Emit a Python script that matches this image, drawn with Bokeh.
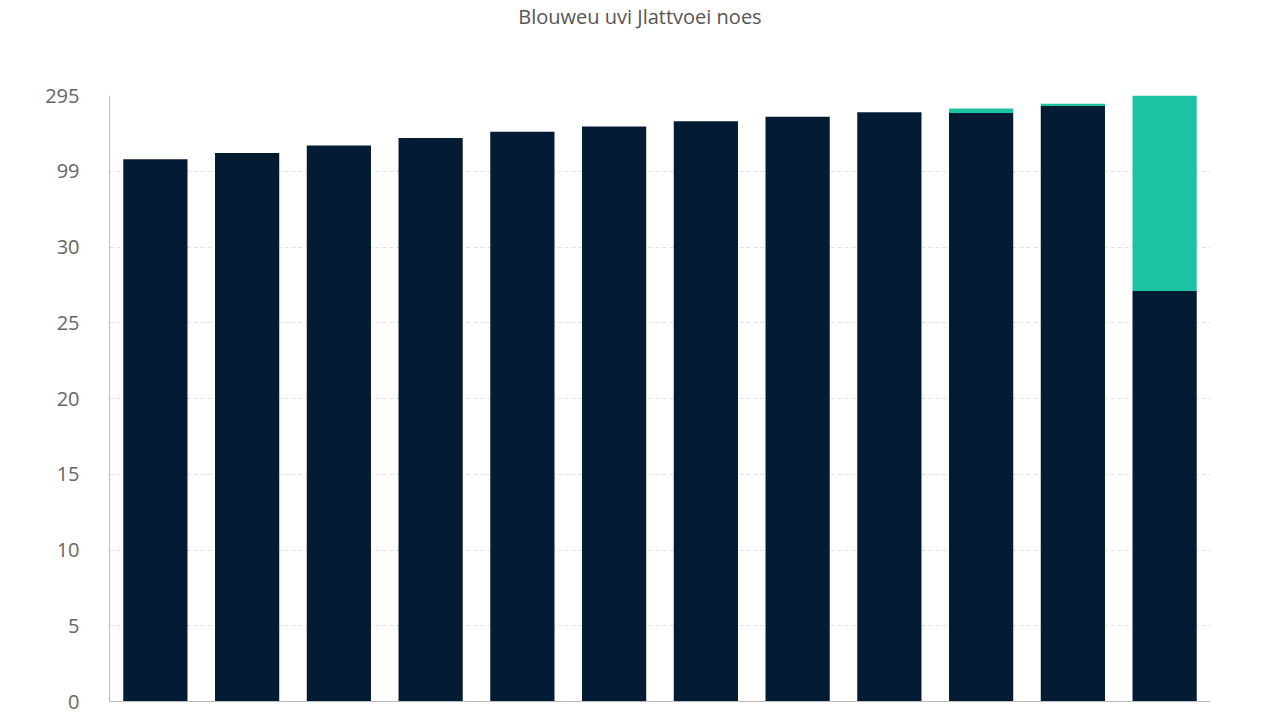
from bokeh.plotting import figure
from bokeh.models import FactorRange, Range1d, FixedTicker, Div
from bokeh.layouts import column
from bokeh.embed import file_html
from bokeh.resources import INLINE

categories = [str(i) for i in range(1, 13)]
base_values = [35.8, 36.2, 36.7, 37.2, 37.6, 37.95, 38.3, 38.6, 38.9, 38.85, 39.3, 27.1]
top_values = [0.0, 0.0, 0.0, 0.0, 0.0, 0.0, 0.0, 0.0, 0.0, 0.3, 0.15, 12.9]
y_ticks = [0, 5, 10, 15, 20, 25, 30, 35, 40]
y_tick_labels = ["0", "5", "10", "15", "20", "25", "30", "99", "295"]
title_text = "Blouweu uvi Jlattvoei noes"

data = {"cat": categories, "base": base_values, "top": top_values}

title_div = Div(
    text='<div style="display:block; width:1264px; text-align:center; position:relative; left:8px; '
         'font-family:\'Open Sans\'; font-size:20px; color:#555555; '
         'line-height:34px; height:34px; white-space:nowrap;">' + title_text + '</div>',
    width=1264, height=34, margin=0,
)

p = figure(
    x_range=FactorRange(*categories, range_padding=0.0, factor_padding=0.0),
    y_range=Range1d(0, 40),
    width=1264, height=682,
    output_backend="svg", toolbar_location=None,
    min_border_left=109, min_border_right=54, min_border_bottom=15,
    min_border_top=61, margin=0,
)

p.vbar_stack(["base", "top"], x="cat", width=0.7, source=data,
             color=["#041c33", "#1cc3a0"], line_color=None)

p.outline_line_color = None
p.xgrid.grid_line_color = None
p.ygrid.grid_line_color = "#e0e0e0"
p.ygrid.grid_line_dash = "4 3"
p.yaxis.ticker = FixedTicker(ticks=y_ticks)
p.yaxis.major_label_overrides = {t: l for t, l in zip(y_ticks, y_tick_labels)}
p.yaxis.major_label_text_font = "Open Sans"
p.yaxis.major_label_text_font_size = "20px"
p.yaxis.major_label_text_color = "#666666"
p.yaxis.major_label_standoff = 24
p.yaxis.major_tick_line_color = None
p.yaxis.minor_tick_line_color = None
p.yaxis.axis_line_color = "#bbbbbb"
p.xaxis.axis_line_color = "#bbbbbb"
p.xaxis.major_tick_line_color = None
p.xaxis.minor_tick_line_color = None
p.xaxis.major_label_text_font_size = "0px"
p.xaxis.major_label_text_color = None

layout = column(title_div, p, spacing=0)
open("out.html", "w").write(file_html(layout, INLINE))
